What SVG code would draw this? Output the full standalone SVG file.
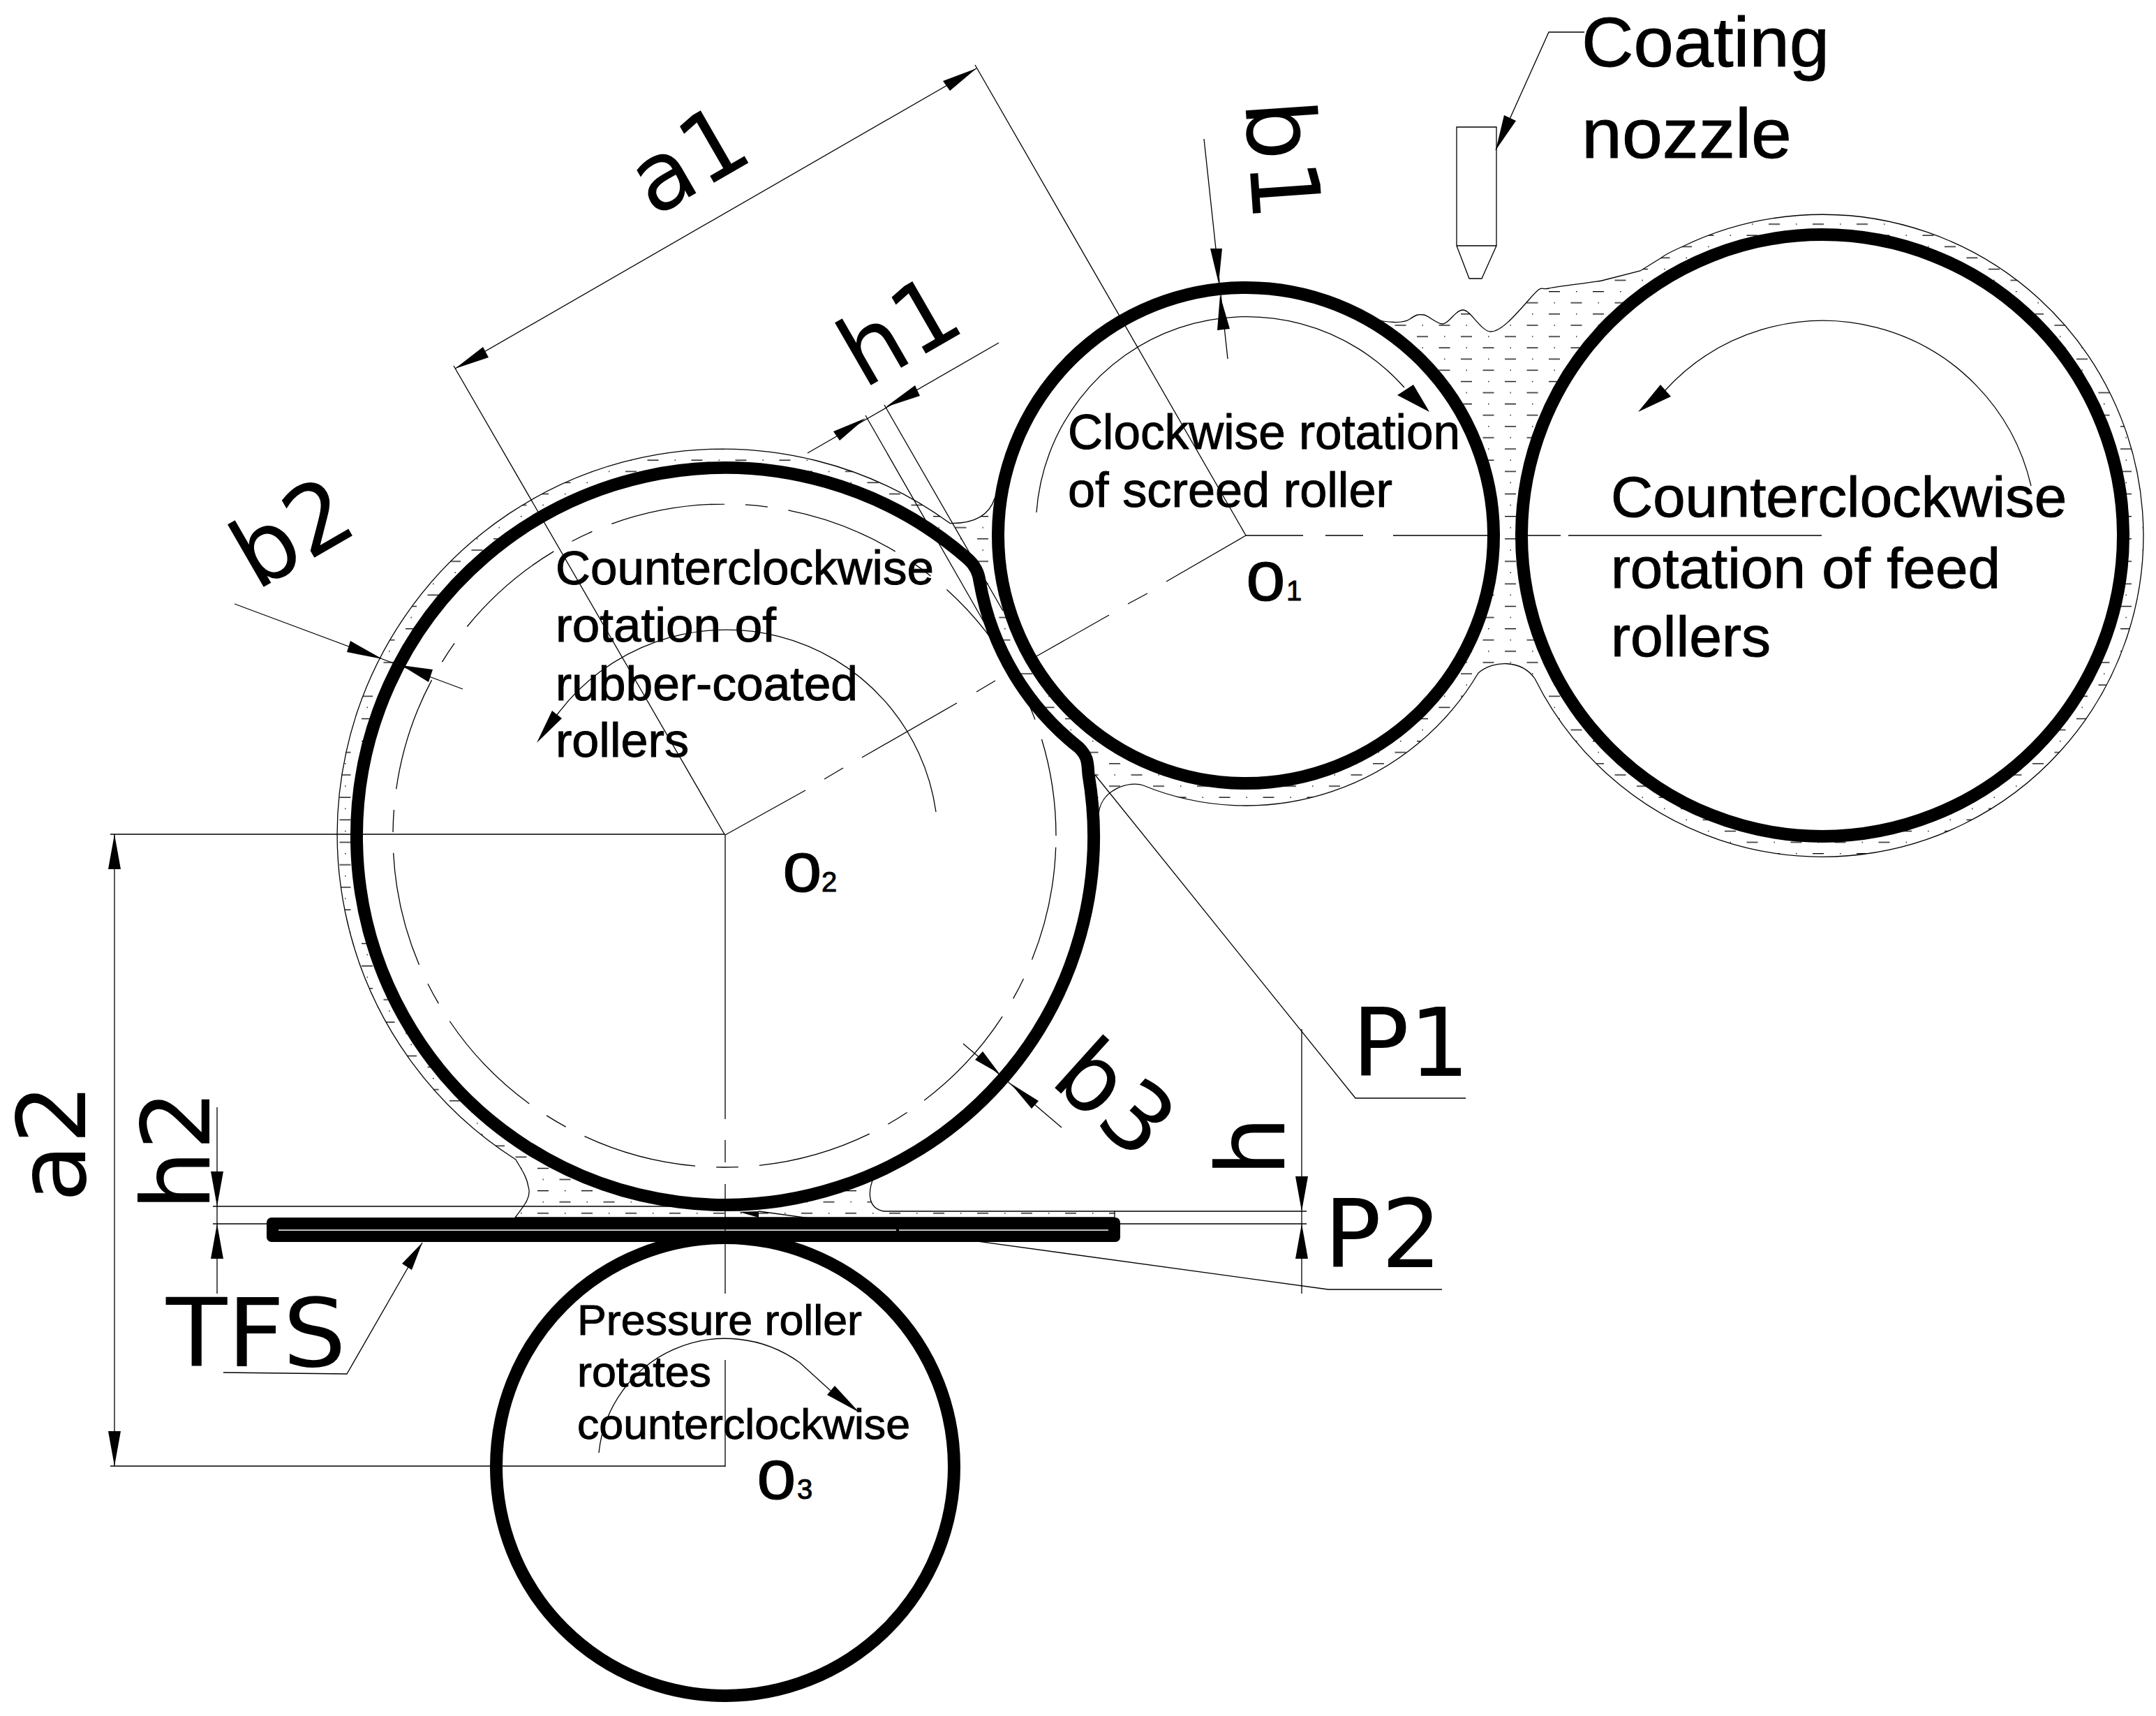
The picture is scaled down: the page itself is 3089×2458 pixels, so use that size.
<svg xmlns="http://www.w3.org/2000/svg" width="3089" height="2458" viewBox="0 0 3089 2458">
<style>
.bg{fill:#fff}
.roller{fill:#fff;stroke:#000;stroke-width:18}
.thin{fill:none;stroke:#000;stroke-width:1.3}
.center{stroke-dasharray:165 30 32 30;stroke-dashoffset:-17}
.ah{fill:#000;stroke:none}
.coat{fill:url(#hatch);stroke:#000;stroke-width:1.3}
.body{font-family:"Liberation Sans",Arial,sans-serif;fill:#000;stroke:#000;stroke-width:1}
.dim{font-family:"DejaVu Sans",sans-serif;font-size:136px;fill:#000}
</style>
<defs>
<pattern id="hatch" patternUnits="userSpaceOnUse" x="14" y="417" width="63" height="32.2">
<rect x="0" y="0" width="16" height="1.3" fill="#000"/>
<rect x="39" y="0" width="1.5" height="1.3" fill="#000"/>
<rect x="31.5" y="16.1" width="16" height="1.3" fill="#000"/>
<rect x="7.5" y="16.1" width="1.5" height="1.3" fill="#000"/>
</pattern>
</defs>
<rect class="bg" x="0" y="0" width="3089" height="2458"/>

<g id="coating">
<path class="coat" d="M738,1744 C750,1728 762,1715 757,1700 C755,1685 745,1672 739,1661 A552,552 0 1 1 1361,749.6 C1385,750 1415,745 1425,714 L1970,457 C1985,462 2010,464 2020,457 S2033,450 2040,451 S2058,464 2067,464 S2085,444 2096,444 S2122,475 2136,475 S2168,455 2190,430 S2205,416 2219,413 S2270,406 2295,402 L2350,388 L2379,370 C2388,363 2400,358 2411,353 A460,460 0 1 1 2199,972 C2180,945 2140,945 2118,964 A387,387 0 0 1 1638,1125 C1620,1118 1574,1130 1574,1170 L1252,1686 C1245,1702 1240,1730 1266,1735 L1597,1735 L1597,1744 Z"/>
</g>

<g id="feed-roller">
<circle class="roller" cx="2611" cy="767" r="431"/>
<path class="thin" d="M2910,696 A306,306 0 0 0 2385,560"/>
<polygon class="ah" points="2347,590 2379,551 2394,568"/>
<text class="body" font-size="82" x="2308" y="740" textLength="653" lengthAdjust="spacingAndGlyphs">Counterclockwise</text>
<text class="body" font-size="82" x="2308" y="842" textLength="558" lengthAdjust="spacingAndGlyphs">rotation of feed</text>
<text class="body" font-size="82" x="2308" y="940" textLength="229" lengthAdjust="spacingAndGlyphs">rollers</text>
</g>

<g id="screed-roller">
<circle class="roller" cx="1785" cy="767" r="355"/>
<path class="thin" d="M1485,734 A302,302 0 0 1 2012,555"/>
<polygon class="ah" points="2048,590 2002,566 2025,551"/>
<text class="body" font-size="71" x="1530" y="643" textLength="562" lengthAdjust="spacingAndGlyphs">Clockwise rotation</text>
<text class="body" font-size="71" x="1530" y="726" textLength="465" lengthAdjust="spacingAndGlyphs">of screed roller</text>
<text class="body" font-size="102" x="1785" y="860">o</text>
<text class="body" font-size="40" x="1843" y="860">1</text>
</g>

<g id="rubber-roller">
<path class="roller" d="M1386,800 C1400,812 1403,825 1404,835 A387,387 0 0 0 1546,1071 C1560,1085 1558,1095 1559.6,1110 A528,528 0 1 1 1386,800 Z"/>
<circle class="thin center" cx="1038" cy="1197" r="475"/>
<path class="thin" d="M1341,1163 A303,303 0 0 0 798,1024"/>
<polygon class="ah" points="769,1064 791,1018 805,1029"/>
<text class="body" font-size="69" x="796" y="837" textLength="542" lengthAdjust="spacingAndGlyphs">Counterclockwise</text>
<text class="body" font-size="69" x="796" y="919" textLength="316" lengthAdjust="spacingAndGlyphs">rotation of</text>
<text class="body" font-size="69" x="796" y="1003" textLength="433" lengthAdjust="spacingAndGlyphs">rubber-coated</text>
<text class="body" font-size="69" x="796" y="1084" textLength="191" lengthAdjust="spacingAndGlyphs">rollers</text>
<text class="body" font-size="102" x="1121" y="1277">o</text>
<text class="body" font-size="40" x="1177" y="1277">2</text>
</g>

<g id="pressure-roller">
<circle class="roller" cx="1039" cy="2101" r="328"/>
<path class="thin" d="M858,2081 A182,182 0 0 1 1146,1952 L1190,1992"/>
<polygon class="ah" points="1231,2023 1196,1985 1185,1998"/>
<text class="body" font-size="61" x="827" y="1912" textLength="408" lengthAdjust="spacingAndGlyphs">Pressure roller</text>
<text class="body" font-size="61" x="827" y="1986" textLength="192" lengthAdjust="spacingAndGlyphs">rotates</text>
<text class="body" font-size="61" x="827" y="2061" textLength="477" lengthAdjust="spacingAndGlyphs">counterclockwise</text>
<text class="body" font-size="102" x="1084" y="2147">o</text>
<text class="body" font-size="40" x="1142" y="2147">3</text>
</g>

<g id="p2-leader">
<path class="thin" d="M1087,1735 L1903,1847 L2066,1847"/>
<polygon class="ah" points="1059,1736 1087,1735 1087,1744"/>
</g>

<g id="plate">
<rect x="382" y="1744" width="1223" height="35" rx="7" fill="#000"/>
<line x1="399" y1="1762" x2="1588" y2="1762" stroke="#fff" stroke-width="1.5"/>
<rect x="1284" y="1760" width="4" height="4" fill="#000"/>
</g>

<g id="nozzle">
<path class="thin" d="M2087,182 H2144 V352 H2087 Z M2087,352 L2105,399 H2123 L2144,352"/>
</g>

<g id="connectors">
<path class="thin" d="M1785,767 L1867,767 M1899,767 L1953,767 M1996,767 L2133,767 M2179,767 L2236,767 M2247,767 L2610,767"/>
<path class="thin" d="M1785,767 L1671,833 M1644,850 L1616,865 M1589,881 L1485,940 M1426,975 L1399,991 M1371,1007 L1235,1085 M1208,1100 L1181,1116 M1154,1132 L1039,1196"/>
<path class="thin" d="M1039,1196 V1603 M1039,1633 V1665 M1039,1696 V1853 M1039,1948 V2101"/>
<path class="thin" d="M158,1195 H1039 M158,2100 H1039 M164,1195 V2100"/>
<polygon class="ah" points="164,1195 155,1245 173,1245"/>
<polygon class="ah" points="164,2100 155,2050 173,2050"/>

<path class="thin" d="M652,528 L1399,98 M650,524 L1038,1195 M1397,93 L1785,767"/>
<polygon class="ah" points="652,528 692,497 700,512"/>
<polygon class="ah" points="1399,98 1351,116 1361,130"/>

<path class="thin" d="M1157,649 L1431,491 M1240,595 L1412,895 M1267,580 L1437,875"/>
<polygon class="ah" points="1240,599 1194,618 1203,631"/>
<polygon class="ah" points="1269,583 1311,552 1318,567"/>

<path class="thin" d="M1725,199 L1759,514"/>
<polygon class="ah" points="1746,406 1734,356 1751,356"/>
<polygon class="ah" points="1748,423 1744,473 1762,471"/>

<path class="thin" d="M336,865 L663,987"/>
<polygon class="ah" points="548,944 502,918 497,934"/>
<polygon class="ah" points="575,953 620,959 614,977"/>

<path class="thin" d="M1380,1495 L1521,1615"/>
<polygon class="ah" points="1432,1538 1408,1506 1397,1518"/>
<polygon class="ah" points="1448,1552 1488,1577 1478,1588"/>

<path class="thin" d="M311,1586 V1853 M305,1728 H992 M305,1753 H382"/>
<polygon class="ah" points="311,1728 302,1678 320,1678"/>
<polygon class="ah" points="311,1753 302,1803 320,1803"/>

<path class="thin" d="M1865,1474 V1853 M1597,1735 H1872 M1605,1753 H1872"/>
<polygon class="ah" points="1865,1735 1856,1685 1874,1685"/>
<polygon class="ah" points="1865,1753 1856,1803 1874,1803"/>

<path class="thin" d="M1569,1110 L1942,1573 L2100,1573"/>
<path class="thin" d="M605,1780 L497,1968 L320,1966"/>
<polygon class="ah" points="605,1780 576,1810 590,1819"/>
<path class="thin" d="M2270,46 L2219,46 L2143,215"/>
<polygon class="ah" points="2143,215 2155,165 2172,173"/>
</g>

<g id="labels">
<text class="body" font-size="100" x="2266" y="95" textLength="355" lengthAdjust="spacingAndGlyphs">Coating</text>
<text class="body" font-size="100" x="2266" y="226" textLength="301" lengthAdjust="spacingAndGlyphs">nozzle</text>
<text class="dim" x="1937" y="1541">P1</text>
<text class="dim" x="1897" y="1815">P2</text>
<text class="dim" x="238" y="1957" textLength="258" lengthAdjust="spacingAndGlyphs">TFS</text>
<text class="dim" transform="translate(936,312) rotate(-30)">a1</text>
<text class="dim" transform="translate(1237,558) rotate(-30)">h1</text>
<text class="dim" transform="translate(1784,146) rotate(86)">b1</text>
<text class="dim" transform="translate(367,847) rotate(-30)">b2</text>
<text class="dim" transform="translate(1502,1550) rotate(42)">b3</text>
<text class="dim" transform="translate(122,1722) rotate(-90)">a2</text>
<text class="dim" transform="translate(300,1734) rotate(-90)">h2</text>
<text class="dim" transform="translate(1840,1685) rotate(-90)">h</text>
</g>
</svg>
